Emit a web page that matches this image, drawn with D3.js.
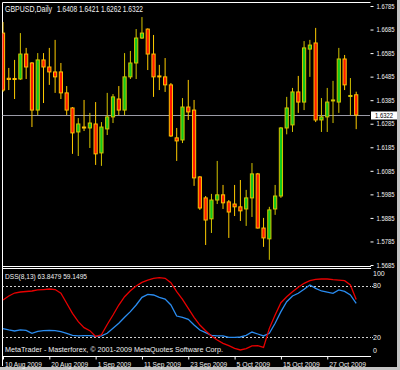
<!DOCTYPE html>
<html>
<head>
<meta charset="utf-8">
<script src="https://cdn.jsdelivr.net/npm/d3@7"></script>
<style>
body { margin: 0; background: #fff; }
svg { display: block; }
text { font-family: "Liberation Sans", Arial, sans-serif; fill: #f0f0f0; }
</style>
</head>
<body>
<div id="chart"></div>
<script>
const width = 400, height = 370;

// GBPUSD daily, one entry per trading day from 10 Aug 2009 to 3 Nov 2009
const opens = [1.6670, 1.6478, 1.6477, 1.6475, 1.6581, 1.6543, 1.6343, 1.6556, 1.6526, 1.6505,
  1.6505, 1.6416, 1.6352, 1.6250, 1.6271, 1.6267, 1.6284, 1.6161, 1.6263, 1.6314,
  1.6390, 1.6343, 1.6484, 1.6543, 1.6649, 1.6687, 1.6581, 1.6488, 1.6484, 1.6450,
  1.6225, 1.6216, 1.6356, 1.6343, 1.6059, 1.5970, 1.5881, 1.5961, 1.5983, 1.5953,
  1.5944, 1.5932, 1.5923, 1.5970, 1.6072, 1.5842, 1.5796, 1.5923, 1.5978, 1.6267,
  1.6280, 1.6420, 1.6377, 1.6602, 1.6628, 1.6301, 1.6314, 1.6382, 1.6377, 1.6560,
  1.6403, 1.6408];
const highs = [1.6717, 1.6522, 1.6556, 1.6670, 1.6607, 1.6547, 1.6585, 1.6585, 1.6607, 1.6641,
  1.6543, 1.6445, 1.6356, 1.6309, 1.6386, 1.6331, 1.6377, 1.6292, 1.6416, 1.6411,
  1.6445, 1.6585, 1.6594, 1.6687, 1.6738, 1.6690, 1.6662, 1.6535, 1.6564, 1.6458,
  1.6267, 1.6394, 1.6471, 1.6386, 1.6063, 1.5978, 1.5987, 1.6127, 1.6025, 1.5961,
  1.6025, 1.6046, 1.6004, 1.6118, 1.6076, 1.5885, 1.5932, 1.6025, 1.6271, 1.6399,
  1.6437, 1.6488, 1.6636, 1.6641, 1.6692, 1.6394, 1.6437, 1.6467, 1.6607, 1.6577,
  1.6479, 1.6421];
const lows = [1.6420, 1.6428, 1.6390, 1.6471, 1.6475, 1.6271, 1.6322, 1.6373, 1.6450, 1.6416,
  1.6390, 1.6322, 1.6157, 1.6148, 1.6254, 1.6182, 1.6110, 1.6106, 1.6237, 1.6288,
  1.6322, 1.6322, 1.6475, 1.6475, 1.6645, 1.6513, 1.6399, 1.6428, 1.6420, 1.6229,
  1.6127, 1.6203, 1.6301, 1.6021, 1.5919, 1.5770, 1.5821, 1.5944, 1.5923, 1.5800,
  1.5893, 1.5872, 1.5851, 1.5889, 1.5840, 1.5762, 1.5707, 1.5898, 1.5970, 1.6240,
  1.6250, 1.6331, 1.6343, 1.6484, 1.6292, 1.6250, 1.6250, 1.6288, 1.6331, 1.6428,
  1.6322, 1.6262];
const closes = [1.6428, 1.6473, 1.6473, 1.6581, 1.6526, 1.6343, 1.6556, 1.6526, 1.6505, 1.6484,
  1.6416, 1.6343, 1.6246, 1.6284, 1.6269, 1.6288, 1.6157, 1.6271, 1.6314, 1.6399,
  1.6343, 1.6484, 1.6543, 1.6649, 1.6670, 1.6581, 1.6484, 1.6484, 1.6450, 1.6233,
  1.6212, 1.6356, 1.6335, 1.6055, 1.5927, 1.5876, 1.5961, 1.5983, 1.5949, 1.5910,
  1.5932, 1.5915, 1.5970, 1.6072, 1.5842, 1.5800, 1.5919, 1.5978, 1.6267, 1.6352,
  1.6420, 1.6377, 1.6607, 1.6619, 1.6301, 1.6314, 1.6377, 1.6386, 1.6560, 1.6450,
  1.6405, 1.6322];

// DSS(8,13): red and blue lines
const dssRed = [63.2, 67.8, 71.3, 72.5, 73.1, 73.7, 74.9, 75.4, 76.0, 75.4,
  71.0, 59.3, 47.6, 37.8, 30.8, 27.3, 20.5, 22.5, 34.5, 45.6,
  57.3, 67.0, 74.0, 79.5, 83.8, 86.5, 88.5, 89.3, 88.5, 83.4,
  72.9, 64.0, 53.4, 42.9, 33.9, 27.3, 21.1, 16.4, 12.5, 9.7,
  6.6, 4.7, 6.2, 9.4, 9.7, 7.8, 30.0, 45.6, 60.0, 67.0,
  72.9, 78.0, 82.7, 85.7, 87.4, 87.7, 87.7, 86.9, 86.5, 85.7,
  80.7, 63.8479];
const dssBlue = [29.6, 28.1, 26.9, 28.1, 27.7, 24.2, 26.5, 27.3, 27.7, 27.3,
  26.1, 24.2, 21.8, 21.1, 21.4, 21.4, 20.7, 21.1, 24.2, 30.0,
  35.9, 42.9, 49.5, 57.3, 66.3, 69.8, 69.0, 66.3, 64.3, 57.3,
  44.4, 42.9, 40.6, 33.9, 28.1, 24.9, 21.8, 21.1, 21.1, 19.5,
  19.5, 19.9, 21.8, 25.7, 23.4, 21.1, 24.2, 35.9, 49.5, 61.2,
  67.8, 71.0, 75.7, 80.7, 76.8, 73.7, 72.5, 71.0, 74.9, 73.3,
  69.0, 59.1495];

const priceTicks = [1.5685, 1.5785, 1.5885, 1.5985, 1.6085, 1.6185, 1.6285, 1.6385, 1.6485, 1.6585, 1.6685, 1.6785];
const dssTicks = [0, 20, 80, 100];
const dssLevels = [20, 80];
const dateTickIdx = [0, 8, 16, 24, 32, 40, 48, 56];

// trading days (weekdays only)
const days = d3.timeDay.range(new Date(2009, 7, 10), new Date(2009, 10, 4))
  .filter(d => d.getDay() % 6 !== 0);
const n = days.length;
const bars = d3.range(n).map(i => ({ i, o: opens[i], h: highs[i], l: lows[i], c: closes[i] }));

const x = d3.scaleLinear().domain([0, n - 1]).range([3, 3 + 5.79 * (n - 1)]);
const y = d3.scaleLinear().domain([1.5685, 1.6785]).range([265, 6]);
const yd = d3.scaleLinear().domain([0, 100]).range([354, 268.5]);

const f4 = d3.format(".4f");
const fmtDate = d3.timeFormat("%-d %b %Y");

const svg = d3.select("#chart").append("svg")
  .attr("width", width).attr("height", height);

// screenshot frame + shadow
svg.append("rect").attr("width", width).attr("height", height).attr("fill", "#c4c4c4");
svg.append("rect").attr("width", 397).attr("height", 367).attr("fill", "#000");

const defs = svg.append("defs");
defs.append("clipPath").attr("id", "clipMain")
  .append("rect").attr("x", 2.5).attr("y", 2.5).attr("width", 367.5).attr("height", 263.5);
defs.append("clipPath").attr("id", "clipInd")
  .append("rect").attr("x", 2.5).attr("y", 268.5).attr("width", 367.5).attr("height", 87);

// panel borders
const frame = svg.append("g").attr("fill", "none").attr("stroke", "#fff").attr("stroke-width", 1);
frame.append("path").attr("d", "M2.5,366V2.5H370.5");
frame.append("line").attr("x1", 2).attr("x2", 371).attr("y1", 266.5).attr("y2", 266.5);
frame.append("line").attr("x1", 2).attr("x2", 371).attr("y1", 268.5).attr("y2", 268.5);

// ---- price panel
const main = svg.append("g").attr("clip-path", "url(#clipMain)");

main.append("line")
  .attr("x1", 2).attr("x2", 370)
  .attr("y1", Math.round(y(closes[n - 1])) + 0.5).attr("y2", Math.round(y(closes[n - 1])) + 0.5)
  .attr("stroke", "#9a9aa6");

const candle = main.selectAll("g.bar").data(bars).enter().append("g").attr("class", "bar");
candle.append("line")
  .attr("x1", d => x(d.i)).attr("x2", d => x(d.i))
  .attr("y1", d => y(d.h)).attr("y2", d => y(d.l))
  .attr("stroke", d => d.c >= d.o ? "#d4c400" : "#ffcc00");
candle.append("rect")
  .attr("x", d => x(d.i) - 1.6)
  .attr("width", 3.2)
  .attr("y", d => y(Math.max(d.o, d.c)))
  .attr("height", d => Math.max(1, Math.abs(y(d.o) - y(d.c))))
  .attr("fill", d => d.c >= d.o ? "#12c81a" : "#ff1800")
  .attr("stroke", d => d.c >= d.o ? "#d4c400" : "#ffc000")
  .attr("stroke-width", 1);

// price axis
const yAxis = svg.append("g")
  .attr("transform", "translate(370.5,0)")
  .call(d3.axisRight(y).tickValues(priceTicks).tickFormat(f4).tickSize(3).tickPadding(3));
yAxis.select(".domain").remove();
yAxis.selectAll("line").attr("stroke", "#fff");
yAxis.selectAll("text")
  .attr("fill", "#f0f0f0").style("font-size", "7px")
  .attr("textLength", 18).attr("lengthAdjust", "spacingAndGlyphs");

// current price label
const lastY = Math.round(y(closes[n - 1])) + 0.5;
svg.append("rect").attr("x", 371).attr("y", lastY - 4).attr("width", 26).attr("height", 8).attr("fill", "#fff");
svg.append("text").attr("x", 375).attr("y", lastY + 2.5)
  .style("font-size", "7px").style("fill", "#000")
  .attr("textLength", 18).attr("lengthAdjust", "spacingAndGlyphs")
  .text(f4(closes[n - 1]));

svg.append("text").attr("x", 5).attr("y", 11.5).style("font-size", "8.5px")
  .attr("textLength", 47).attr("lengthAdjust", "spacingAndGlyphs")
  .text("GBPUSD,Daily");
svg.append("text").attr("x", 57).attr("y", 11.5).style("font-size", "8.5px")
  .attr("textLength", 86).attr("lengthAdjust", "spacingAndGlyphs")
  .text([opens[n - 1], highs[n - 1], lows[n - 1], closes[n - 1]].map(f4).join(" "));

// ---- DSS panel
const ind = svg.append("g").attr("clip-path", "url(#clipInd)");
ind.selectAll("line.level").data(dssLevels).enter().append("line")
  .attr("class", "level")
  .attr("x1", 2).attr("x2", 370)
  .attr("y1", d => Math.round(yd(d)) + 0.5).attr("y2", d => Math.round(yd(d)) + 0.5)
  .attr("stroke", "#d0d0d0").attr("stroke-dasharray", "2,2");

const line = d3.line().x((d, i) => x(i)).y(d => yd(d));
ind.append("path").datum(dssBlue).attr("d", line)
  .attr("fill", "none").attr("stroke", "#2a8cf0").attr("stroke-width", 1.3);
ind.append("path").datum(dssRed).attr("d", line)
  .attr("fill", "none").attr("stroke", "#e80000").attr("stroke-width", 1.3);

svg.selectAll("line.lvltick").data(dssLevels).enter().append("line")
  .attr("x1", 370).attr("x2", 373)
  .attr("y1", d => Math.round(yd(d)) + 0.5).attr("y2", d => Math.round(yd(d)) + 0.5)
  .attr("stroke", "#d0d0d0").attr("stroke-dasharray", "1,1");

const dAxis = svg.append("g")
  .attr("transform", "translate(370.5,0)")
  .call(d3.axisRight(yd).tickValues(dssTicks).tickSize(0).tickPadding(2.5));
dAxis.select(".domain").remove();
dAxis.selectAll("text")
  .attr("fill", "#f0f0f0").style("font-size", "7px")
  .attr("dy", d => d === 100 ? "0.95em" : d === 0 ? "-0.25em" : "0.32em");

svg.append("text").attr("x", 5).attr("y", 278.5).style("font-size", "8px")
  .attr("textLength", 82).attr("lengthAdjust", "spacingAndGlyphs")
  .text(`DSS(8,13) ${f4(dssRed[n - 1])} ${f4(dssBlue[n - 1])}`);
svg.append("text").attr("x", 5).attr("y", 352).style("font-size", "8px")
  .attr("textLength", 218).attr("lengthAdjust", "spacingAndGlyphs")
  .text("MetaTrader - Masterforex, © 2001-2009 MetaQuotes Software Corp.");

// ---- date axis
const xAxis = svg.append("g")
  .attr("transform", "translate(0,356.5)")
  .call(d3.axisBottom(x).tickValues(dateTickIdx).tickFormat(i => fmtDate(days[i])).tickSize(3).tickPadding(2));
xAxis.select(".domain").attr("stroke", "#fff").attr("d", "M2,0H371");
xAxis.selectAll("line").attr("stroke", "#fff");
xAxis.selectAll("text")
  .attr("text-anchor", "start").attr("x", 1.5)
  .attr("fill", "#f0f0f0").style("font-size", "7.5px")
  .attr("textLength", i => fmtDate(days[i]).length * 3.35).attr("lengthAdjust", "spacingAndGlyphs");
</script>
</body>
</html>
